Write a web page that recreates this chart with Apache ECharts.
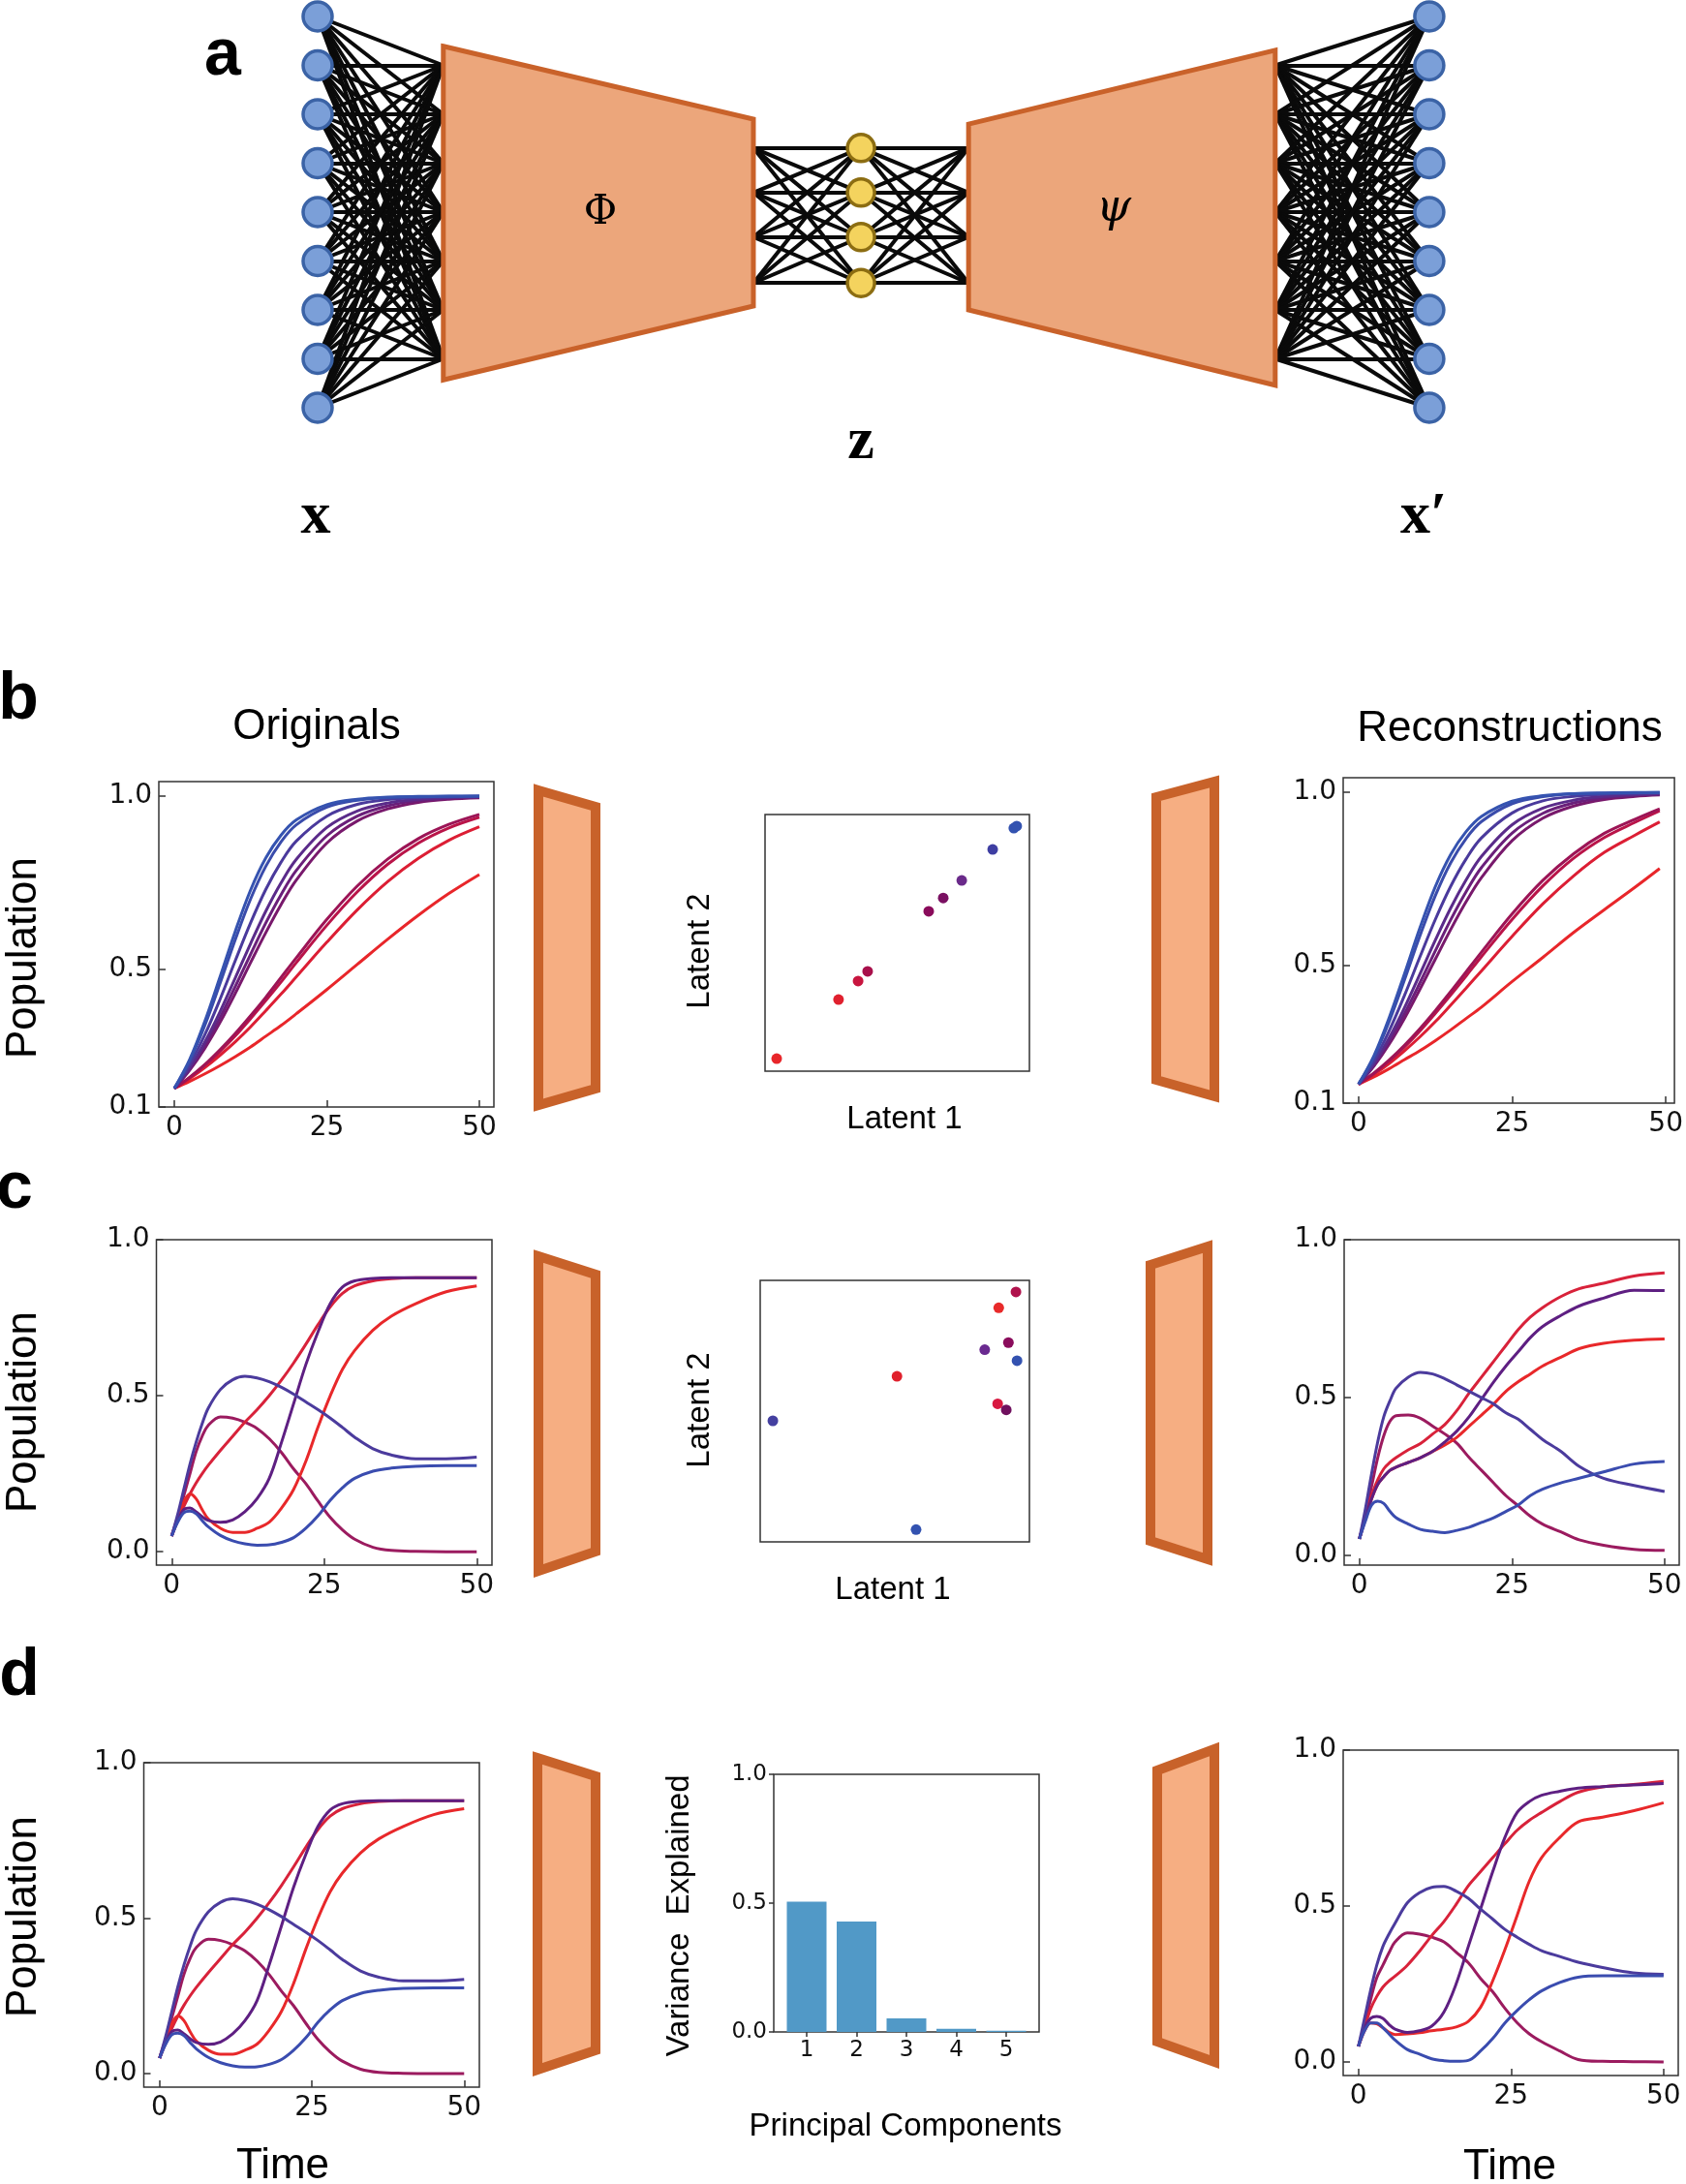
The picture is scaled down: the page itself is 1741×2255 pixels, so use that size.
<!DOCTYPE html>
<html><head><meta charset="utf-8">
<script src="https://cdn.jsdelivr.net/npm/echarts@6/dist/echarts.min.js"></script>
<style>html,body{margin:0;padding:0;background:#fff}#c{width:1741px;height:2255px}</style>
</head><body><div id="c"></div>
<script>
// ================= DATA =================
// Panel b: logistic growth, originals
const tB = [0,2.5,5,7.5,10,12.5,15,17.5,20,25,30,35,40,45,50];
const bOrig1 = [0.154,0.237,0.348,0.477,0.609,0.728,0.821,0.887,0.931,0.975,0.991,0.997,0.999,1.0,1.0];
const bOrig2 = [0.154,0.233,0.336,0.458,0.585,0.702,0.797,0.868,0.917,0.968,0.988,0.996,0.998,0.999,1.0];
const bOrig3 = [0.154,0.222,0.309,0.412,0.524,0.633,0.730,0.809,0.870,0.942,0.976,0.990,0.996,0.998,0.999];
const bOrig4 = [0.154,0.213,0.288,0.376,0.474,0.573,0.667,0.749,0.817,0.909,0.957,0.980,0.991,0.996,0.998];
const bOrig5 = [0.154,0.209,0.278,0.359,0.449,0.542,0.633,0.715,0.785,0.885,0.942,0.972,0.987,0.994,0.997];
const bOrig6 = [0.154,0.206,0.270,0.345,0.429,0.518,0.605,0.686,0.757,0.864,0.928,0.963,0.982,0.991,0.995];
const bOrig7 = [0.154,0.186,0.223,0.266,0.313,0.364,0.418,0.475,0.532,0.643,0.740,0.818,0.877,0.918,0.947];
const bOrig8 = [0.154,0.185,0.221,0.261,0.306,0.356,0.408,0.462,0.518,0.626,0.723,0.803,0.864,0.908,0.939];
const bOrig9 = [0.154,0.182,0.214,0.250,0.289,0.332,0.379,0.427,0.477,0.577,0.671,0.753,0.820,0.872,0.911];
const bOrig10 = [0.154,0.174,0.196,0.220,0.246,0.274,0.305,0.336,0.370,0.440,0.513,0.586,0.655,0.718,0.773];
// Panel b: reconstructions
const tBR = [0,2.5,5,7.5,10,12.5,15,17.5,20,25,30,35,40,45,49];
const bRec1 = [0.155,0.237,0.348,0.476,0.608,0.727,0.820,0.886,0.930,0.974,0.990,0.996,0.998,0.999,0.999];
const bRec2 = [0.155,0.233,0.337,0.458,0.585,0.701,0.796,0.866,0.915,0.967,0.987,0.995,0.997,0.998,0.999];
const bRec3 = [0.155,0.222,0.310,0.413,0.524,0.632,0.728,0.807,0.868,0.940,0.975,0.988,0.994,0.997,0.998];
const bRec4 = [0.155,0.214,0.289,0.377,0.474,0.572,0.665,0.746,0.814,0.906,0.954,0.977,0.988,0.993,0.995];
const bRec5 = [0.155,0.210,0.279,0.360,0.449,0.541,0.631,0.712,0.782,0.882,0.939,0.969,0.984,0.991,0.994];
const bRec6 = [0.155,0.207,0.271,0.346,0.430,0.517,0.603,0.683,0.753,0.860,0.925,0.960,0.979,0.988,0.992];
const bRec7 = [0.155,0.187,0.225,0.268,0.316,0.368,0.423,0.480,0.537,0.648,0.745,0.822,0.881,0.922,0.952];
const bRec8 = [0.155,0.186,0.222,0.263,0.309,0.360,0.413,0.468,0.524,0.632,0.729,0.809,0.869,0.913,0.946];
const bRec9 = [0.155,0.183,0.215,0.252,0.292,0.336,0.384,0.433,0.483,0.583,0.677,0.758,0.826,0.876,0.914];
const bRec10 = [0.155,0.176,0.200,0.226,0.252,0.281,0.312,0.345,0.378,0.452,0.522,0.594,0.660,0.725,0.779];
// Panel b: latent space (arbitrary units)
const latentB1 = [0.044,0.278,0.352,0.388,0.619,0.674,0.744,0.861,0.941,0.952];
const latentB2 = [0.049,0.279,0.351,0.389,0.623,0.675,0.743,0.864,0.947,0.955];

// Panels c/d: originals (same data in c and d)
const tC = [0,1,2,3,4,5,6,8,10,12,14,16,18,20,22,24,26,28,30,33,36,40,45,50];
const cOrigA = [0.05,0.12,0.2,0.28,0.35,0.41,0.46,0.52,0.551,0.562,0.557,0.545,0.527,0.505,0.48,0.455,0.428,0.398,0.367,0.33,0.31,0.298,0.298,0.303];
const cOrigB = [0.05,0.11,0.18,0.25,0.32,0.37,0.405,0.432,0.428,0.415,0.395,0.362,0.318,0.265,0.218,0.162,0.11,0.07,0.04,0.014,0.004,0.001,0,0];
const cOrigC = [0.05,0.1,0.145,0.185,0.22,0.25,0.277,0.325,0.37,0.415,0.455,0.5,0.55,0.605,0.665,0.728,0.785,0.828,0.852,0.868,0.875,0.878,0.878,0.878];
const cOrigD = [0.05,0.1,0.135,0.14,0.128,0.112,0.1,0.094,0.102,0.128,0.17,0.235,0.35,0.475,0.6,0.705,0.795,0.848,0.868,0.876,0.878,0.878,0.878,0.878];
const cOrigE = [0.05,0.095,0.125,0.13,0.122,0.1,0.08,0.052,0.035,0.025,0.021,0.022,0.03,0.045,0.075,0.115,0.165,0.205,0.235,0.258,0.268,0.274,0.276,0.276];
const cOrigF = [0.05,0.11,0.16,0.185,0.17,0.135,0.105,0.075,0.062,0.062,0.075,0.095,0.14,0.2,0.29,0.4,0.5,0.585,0.645,0.71,0.755,0.795,0.833,0.852];
// Panel c: reconstructions
const cRecA = [0.053,0.15,0.26,0.36,0.44,0.49,0.53,0.565,0.58,0.575,0.56,0.54,0.52,0.5,0.48,0.452,0.432,0.4,0.368,0.33,0.283,0.245,0.222,0.203];
const cRecB = [0.053,0.13,0.22,0.31,0.38,0.425,0.443,0.445,0.435,0.41,0.385,0.355,0.31,0.27,0.23,0.19,0.158,0.125,0.1,0.075,0.05,0.033,0.02,0.017];
const cRecC = [0.053,0.12,0.19,0.24,0.275,0.295,0.31,0.335,0.355,0.385,0.415,0.46,0.515,0.565,0.615,0.665,0.715,0.755,0.785,0.82,0.845,0.862,0.885,0.895];
const cRecD = [0.053,0.12,0.18,0.225,0.25,0.27,0.28,0.295,0.31,0.33,0.36,0.395,0.44,0.495,0.55,0.6,0.645,0.69,0.725,0.76,0.79,0.815,0.84,0.839];
const cRecE = [0.053,0.11,0.16,0.172,0.165,0.14,0.12,0.1,0.083,0.077,0.073,0.08,0.09,0.105,0.12,0.14,0.16,0.19,0.21,0.23,0.245,0.265,0.29,0.298];
const cRecF = [0.053,0.12,0.18,0.225,0.25,0.27,0.28,0.295,0.31,0.33,0.35,0.375,0.41,0.445,0.48,0.52,0.55,0.575,0.6,0.628,0.655,0.672,0.682,0.686];
// Panel c: latent space
const latentC1 = [0.950,0.886,0.922,0.834,0.954,0.508,0.882,0.914,0.047,0.579];
const latentC2 = [0.956,0.895,0.762,0.735,0.693,0.633,0.528,0.505,0.463,0.047];
// Panel d: PCA variance explained
const pcLabels = [1,2,3,4,5];
const varianceExplained = [0.506,0.429,0.053,0.0125,0.005];
// Panel d: reconstructions
const dRecA = [0.05,0.14,0.23,0.31,0.37,0.41,0.445,0.51,0.543,0.56,0.563,0.548,0.525,0.49,0.458,0.425,0.4,0.377,0.357,0.338,0.32,0.303,0.286,0.281];
const dRecB = [0.05,0.12,0.2,0.27,0.31,0.35,0.385,0.414,0.41,0.4,0.385,0.352,0.318,0.268,0.225,0.172,0.126,0.09,0.065,0.035,0.008,0.002,0.001,0.0];
const dRecC = [0.05,0.11,0.17,0.21,0.24,0.26,0.275,0.31,0.355,0.405,0.45,0.505,0.565,0.61,0.655,0.7,0.743,0.775,0.8,0.835,0.865,0.882,0.89,0.9];
const dRecD = [0.05,0.11,0.14,0.146,0.14,0.12,0.105,0.095,0.1,0.115,0.16,0.25,0.37,0.49,0.61,0.72,0.8,0.835,0.855,0.868,0.878,0.883,0.888,0.893];
const dRecE = [0.05,0.1,0.125,0.125,0.11,0.09,0.07,0.04,0.025,0.01,0.004,0.002,0.005,0.035,0.075,0.125,0.165,0.2,0.228,0.255,0.272,0.276,0.276,0.276];
const dRecF = [0.05,0.1,0.125,0.122,0.11,0.095,0.088,0.09,0.094,0.1,0.105,0.112,0.13,0.175,0.26,0.36,0.47,0.58,0.655,0.72,0.77,0.785,0.805,0.831];

// Panel a: network schematic (layer layout in node-spacing units)
const inputNodes = [0,1,2,3,4,5,6,7,8];
const edgeTargets = [1,2,3,4,5,6,7];
const latentNodes = [2.69,3.60,4.51,5.45];
const layerX = {input:0, encIn:2.57, encOut:8.91, latent:11.11, decIn:13.31, decOut:19.58, output:22.73};
const encoderShape = [[2.57,0.61],[8.91,2.10],[8.91,5.92],[2.57,7.43]];
const decoderShape = [[13.31,2.20],[19.58,0.69],[19.58,7.54],[13.31,6.00]];

// ================= STYLES =================
const bColors = ['#3553b0','#3a4cab','#4a3a9c','#5a2b8a','#6a1f7a','#78196c','#9c1456','#b91449','#dc1e34','#e8262a'];
const latBColors = ['#e8262a','#e0202e','#c8153f','#a8104b','#8a0b5b','#7a1062','#6a2a8a','#3e3ea2','#3352b0','#3352b0'];
const latCColors = ['#b0124c','#e82a2a','#8a0c5c','#6a2a90','#3352b0','#e0202c','#d81840','#70105e','#4440a0','#3352b0'];
const colA='#4b3b9d', colB='#9b1b5f', colC='#d8223a', colD='#5e1f82', colE='#3a4caf', colF='#e8282a';
const TICK_FONT = 'DejaVu Sans';
const LABEL_FONT = 'Liberation Sans';

function mkAxis(kind, gi, min, max, ticks, o) {
  o = o || {};
  return {
    type:'value', gridIndex:gi, min:min, max:max, inverse:false,
    axisLine:{show:false, onZero:false}, splitLine:{show:false},
    axisTick:{show:true, inside:!o.outside, length:o.len||7, customValues:ticks, lineStyle:{color:'#333', width:1.5}},
    axisLabel:{show:true, customValues:ticks, fontFamily:TICK_FONT, fontSize:o.fs||28, color:'#111',
      margin:o.margin||8, showMinLabel:true, showMaxLabel:true,
      formatter: kind==='y' ? (v=>Number(v).toFixed(1)) : (v=>String(Math.round(v)))}
  };
}
function hiddenAxis(gi, min, max, inv) {
  return {type:'value', gridIndex:gi, min:min, max:max, inverse:!!inv, show:false,
    axisLine:{onZero:false}, splitLine:{show:false}};
}
function curve(gi, t, v, color, w) {
  return {type:'line', xAxisIndex:gi, yAxisIndex:gi, data:t.map((x,i)=>[x, v[i]]),
    showSymbol:false, symbol:'none', smooth:0.35, clip:true,
    lineStyle:{color:color, width:w||3}, z:3};
}
function frameGrid(l,t,w,h){return {left:l, top:t, width:w, height:h, show:true, borderColor:'#333', borderWidth:1.5, backgroundColor:'rgba(0,0,0,0)'};}

const grids = [
  frameGrid(164,807,346,336),      // 0 b originals
  frameGrid(790,841,273,265),      // 1 b latent
  frameGrid(1387,803,347,336),     // 2 b recon
  frameGrid(161.5,1280,346.5,336), // 3 c originals
  frameGrid(785,1322,278,270),     // 4 c latent
  frameGrid(1388,1280,346,336),    // 5 c recon
  frameGrid(148.5,1820,346.5,335), // 6 d originals
  frameGrid(799,1832,274,266),     // 7 d PCA
  frameGrid(1387,1807,346,336),    // 8 d recon
  {left:302.75, top:1.85, width:1198.4, height:434.3, show:false} // 9 schematic
];
const T3 = [0,25,50];
const xAxes = [
  mkAxis('x',0,-2.54,52.38,T3),
  hiddenAxis(1,0,1),
  mkAxis('x',2,-2.5,51.4,T3),
  mkAxis('x',3,-2.5,52.5,T3),
  hiddenAxis(4,0,1),
  mkAxis('x',5,-2.5,52.4,T3),
  mkAxis('x',6,-2.6,52.5,T3),
  mkAxis('x',7,0.34,5.66,pcLabels,{outside:true,len:5,fs:23,margin:8}),
  mkAxis('x',8,-2.5,52.4,T3),
  hiddenAxis(9,-0.5,23.23)
];
const yAxes = [
  mkAxis('y',0,0.1,1.042,[0.1,0.5,1.0],{margin:7}),
  hiddenAxis(1,0,1),
  mkAxis('y',2,0.1,1.042,[0.1,0.5,1.0],{margin:7}),
  mkAxis('y',3,-0.043,1.0,[0,0.5,1.0],{margin:7}),
  hiddenAxis(4,0,1),
  mkAxis('y',5,-0.03,1.0,[0,0.5,1.0],{margin:7}),
  mkAxis('y',6,-0.0436,1.0,[0,0.5,1.0],{margin:7}),
  mkAxis('y',7,0,1,[0,0.5,1.0],{outside:true,len:5,fs:23,margin:7}),
  mkAxis('y',8,-0.0435,1.0,[0,0.5,1.0],{margin:7}),
  hiddenAxis(9,-0.3,8.3,true)
];

const series = [];
// b
const bOrig = [bOrig10,bOrig9,bOrig8,bOrig7,bOrig6,bOrig5,bOrig4,bOrig3,bOrig2,bOrig1];
const bRec = [bRec10,bRec9,bRec8,bRec7,bRec6,bRec5,bRec4,bRec3,bRec2,bRec1];
const bCol = bColors.slice().reverse();
bOrig.forEach((v,i)=>series.push(curve(0,tB,v,bCol[i],3)));
bRec.forEach((v,i)=>series.push(curve(2,tBR,v,bCol[i],3)));
series.push({type:'scatter', xAxisIndex:1, yAxisIndex:1, symbolSize:11,
  data:latentB1.map((x,i)=>({value:[x,latentB2[i]], itemStyle:{color:latBColors[i], opacity:1}})), z:4});
// c & d originals
const orig = [[cOrigB,colB],[cOrigC,colC],[cOrigF,colF],[cOrigD,colD],[cOrigA,colA],[cOrigE,colE]];
orig.forEach(([v,c])=>{series.push(curve(3,tC,v,c)); series.push(curve(6,tC,v,c));});
[[cRecB,colB],[cRecC,colC],[cRecF,colF],[cRecD,colD],[cRecA,colA],[cRecE,colE]]
  .forEach(([v,c])=>series.push(curve(5,tC,v,c)));
[[dRecB,colB],[dRecC,colC],[dRecF,colF],[dRecD,colD],[dRecA,colA],[dRecE,colE]]
  .forEach(([v,c])=>series.push(curve(8,tC,v,c)));
series.push({type:'scatter', xAxisIndex:4, yAxisIndex:4, symbolSize:11,
  data:latentC1.map((x,i)=>({value:[x,latentC2[i]], itemStyle:{color:latCColors[i], opacity:1}})), z:4});
// d PCA bars
series.push({type:'bar', xAxisIndex:7, yAxisIndex:7, barWidth:41,
  data:pcLabels.map((p,i)=>[p,varianceExplained[i]]), itemStyle:{color:'#5199c7'}});

// schematic edges
const edges = [];
inputNodes.forEach(k=>edgeTargets.forEach(j=>edges.push({coords:[[layerX.input,k],[layerX.encIn,j]]})));
latentNodes.forEach(a=>latentNodes.forEach(b=>edges.push({coords:[[layerX.encOut,a],[layerX.latent,b]]})));
latentNodes.forEach(a=>latentNodes.forEach(b=>edges.push({coords:[[layerX.latent,a],[layerX.decIn,b]]})));
edgeTargets.forEach(j=>inputNodes.forEach(k=>edges.push({coords:[[layerX.decOut,j],[layerX.output,k]]})));
series.push({type:'lines', coordinateSystem:'cartesian2d', xAxisIndex:9, yAxisIndex:9, data:edges,
  lineStyle:{color:'#0a0a0a', width:4, opacity:1}, z:1, silent:true});
series.push({type:'custom', xAxisIndex:9, yAxisIndex:9, clip:false, z:2, data:[[0,0],[1,0]],
  renderItem:function(params, api){
    const shp = params.dataIndex===0 ? encoderShape : decoderShape;
    return {type:'polygon', shape:{points:shp.map(p=>api.coord(p))},
      style:{fill:'#eca67b', stroke:'#c9622a', lineWidth:5, lineJoin:'miter'}};
  }});
series.push({type:'scatter', xAxisIndex:9, yAxisIndex:9, symbolSize:30, z:5,
  data:inputNodes.map(k=>[layerX.input,k]).concat(inputNodes.map(k=>[layerX.output,k])),
  itemStyle:{color:'#7b9fd8', borderColor:'#3b63a6', borderWidth:3.5, opacity:1}});
series.push({type:'scatter', xAxisIndex:9, yAxisIndex:9, symbolSize:28, z:5,
  data:latentNodes.map(y=>[layerX.latent,y]),
  itemStyle:{color:'#f4d35e', borderColor:'#8c6d12', borderWidth:3.5, opacity:1}});

// ================= TEXT & ICONS =================
function txt(s, x, y, size, o){
  o = o || {};
  return {type:'text', x:x, y:y, rotation:o.rot||0, z:10, silent:true,
    style:{text:s, fill:'#000', fontSize:size, fontFamily:o.family||LABEL_FONT, fontWeight:o.weight||'normal',
      fontStyle:o.style||'normal',
      align:o.align||'center', verticalAlign:'middle', textAlign:o.align||'center', textVerticalAlign:'middle'}};
}
const R = Math.PI/2;
function icon(pts){
  return {type:'polygon', z:1, silent:true, shape:{points:pts},
    style:{fill:'#f6ae82', stroke:'#c8622a', lineWidth:10, lineJoin:'miter'}};
}
const graphic = [
  txt('a',230,58,68,{weight:'bold'}),
  txt('b',19,723,68,{weight:'bold'}),
  txt('c',15,1228,68,{weight:'bold'}),
  txt('d',20,1731,68,{weight:'bold'}),
  txt('Originals',327,751,44),
  txt('Reconstructions',1559,753,44),
  txt('Population',25,989,44,{rot:R}),
  txt('Population',25,1458,44,{rot:R}),
  txt('Population',25,1979,44,{rot:R}),
  txt('Latent 2',723,982,33,{rot:R}),
  txt('Latent 2',723,1456,33,{rot:R}),
  txt('Latent 1',934,1156,33),
  txt('Latent 1',922,1642,33),
  txt('Variance  Explained',702,1978,33,{rot:R}),
  txt('Principal Components',935,2196,33),
  txt('Time',292,2237,44),
  txt('Time',1559,2238,44),
  txt('\u03A6',620,220,42,{family:'DejaVu Serif'}),
  txt('\u03C8',1150,216,46,{family:'DejaVu Serif', style:'italic'}),
  txt('z',889,457,62,{family:'Liberation Serif', weight:'bold'}),
  txt('x',326,534,62,{family:'Liberation Serif', weight:'bold'}),
  txt('x\u2032',1446,534,62,{family:'Liberation Serif', weight:'bold', align:'left'}),
  icon([[556,816],[615,833],[615,1124],[556,1141]]),
  icon([[1194,823],[1254,807],[1254,1132],[1194,1115]]),
  icon([[556,1297],[615,1316],[615,1602],[556,1622]]),
  icon([[1188,1306],[1247,1287],[1247,1610],[1188,1591]]),
  icon([[555,1815],[615,1834],[615,2117],[555,2137]]),
  icon([[1195,1828],[1254,1806],[1254,2129],[1195,2108]])
];

const chart = echarts.init(document.getElementById('c'), null, {renderer:'canvas', width:1741, height:2255});
chart.setOption({
  backgroundColor:'#ffffff',
  animation:false,
  grid:grids, xAxis:xAxes, yAxis:yAxes, series:series, graphic:graphic
});
</script></body></html>
